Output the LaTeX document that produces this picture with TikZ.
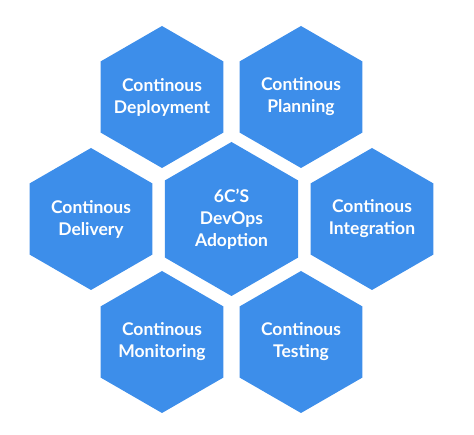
\documentclass[tikz,border=0pt]{standalone}
\usepackage{fontspec}
\setmainfont{Lato}
\usetikzlibrary{shapes.geometric}
\definecolor{hexBlue}{HTML}{3D8EEA}

\begin{document}
\begin{tikzpicture}[
  x=1pt,y=-1pt,
  hex/.style={regular polygon,regular polygon sides=6,regular polygon rotate=30,
    fill=hexBlue,draw=none,inner sep=-15pt,outer sep=0pt,minimum size=142pt,
    text=white,align=center,font=\fontsize{17.5}{22}\selectfont\bfseries},
  corehex/.style={hex,minimum size=154pt}
]
\useasboundingbox (0,0) rectangle (474,435);
\node[corehex] (core) at (231.5,219) {6C’S\\DevOps\\Adoption};
\node[hex] (deploy) at (162,97) {Continous\\Deployment};
\node[hex] (plan) at (301,97) {Continous\\Planning};
\node[hex] (deliv) at (91,219) {Continous\\Delivery};
\node[hex] (integ) at (372,219) {Continous\\Integration};
\node[hex] (monit) at (162,342) {Continous\\Monitoring};
\node[hex] (test) at (301,342) {Continous\\Testing};
\end{tikzpicture}
\end{document}
